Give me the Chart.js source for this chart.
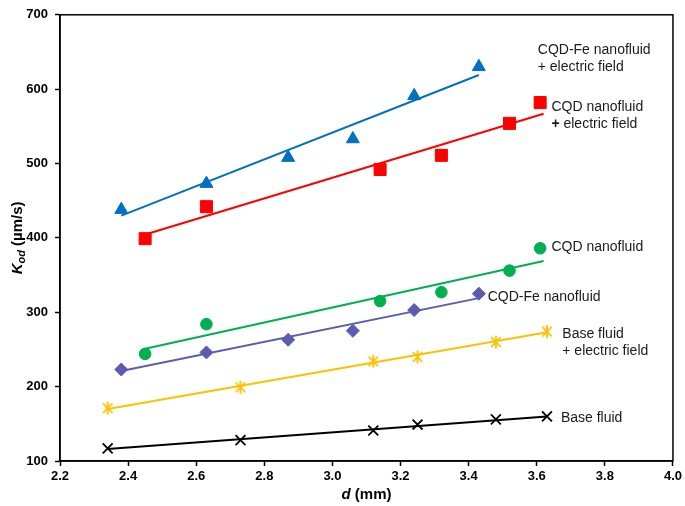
<!DOCTYPE html>
<html><head><meta charset="utf-8">
<script src="https://cdn.jsdelivr.net/npm/chart.js@4.4.1/dist/chart.umd.min.js"></script>
<style>html,body{margin:0;padding:0;background:#fff}#w{width:685px;height:506px}</style>
</head><body><div id="w"><canvas id="c" width="685" height="506"></canvas></div>
<script>
// Data
const dBaseFluid = [2.34, 2.73, 3.12, 3.25, 3.48, 3.63];
const kBaseFluid = [117, 128, 141, 149, 156, 160];
const dBaseEF = [2.34, 2.73, 3.12, 3.25, 3.48, 3.63];
const kBaseEF = [171, 199, 234, 240, 260, 274];
const dCqdFe = [2.38, 2.63, 2.87, 3.06, 3.24, 3.43];
const kCqdFe = [223, 246, 263, 275, 303, 325];
const dCqd = [2.45, 2.63, 3.14, 3.32, 3.52, 3.61];
const kCqd = [244, 284, 315, 327, 356, 386];
const dCqdEF = [2.45, 2.63, 3.14, 3.32, 3.52, 3.61];
const kCqdEF = [399, 442, 492, 511, 554, 582];
const dCqdFeEF = [2.38, 2.63, 2.87, 3.06, 3.24, 3.43];
const kCqdFeEF = [438, 473, 508, 533, 591, 630];
// trend line endpoints [d0, d1], [k0, k1]
const trendBaseFluid = [[2.34, 3.63], [116, 160]];
const trendBaseEF = [[2.34, 3.63], [170, 273]];
const trendCqdFe = [[2.38, 3.43], [221, 319]];
const trendCqd = [[2.45, 3.62], [251, 369]];
const trendCqdEF = [[2.46, 3.62], [406, 567]];
const trendCqdFeEF = [[2.38, 3.43], [430, 619]];
const xTickValues = [2.2, 2.4, 2.6, 2.8, 3.0, 3.2, 3.4, 3.6, 3.8, 4.0];
const yTickValues = [100, 200, 300, 400, 500, 600, 700];
const seriesLabels = [
  ['CQD-Fe nanofluid', '+ electric field'],
  ['CQD nanofluid', '+ electric field'],
  ['CQD nanofluid'],
  ['CQD-Fe nanofluid'],
  ['Base fluid', '+ electric field'],
  ['Base fluid']
];
const labelAnchors = [[3.603, 653], [3.643, 576], [3.643, 388], [3.456, 320], [3.675, 271], [3.671, 158]];

function pts(xs, ys){ return xs.map((x,i)=>({x:x, y:ys[i]})); }

// custom asterisk marker
function asterisk(color){
  const c = document.createElement('canvas'); c.width = 16; c.height = 16;
  const g = c.getContext('2d'); g.strokeStyle = color; g.lineWidth = 1.8;
  g.beginPath();
  g.moveTo(8,1.5); g.lineTo(8,14.5);
  g.moveTo(3.2,3.2); g.lineTo(12.8,12.8);
  g.moveTo(12.8,3.2); g.lineTo(3.2,12.8);
  g.stroke();
  return c;
}

const cols = {feef:'#0070C0', cqdef:'#FF0000', cqd:'#00B050', fe:'#5B5BB0', bef:'#FFC000', base:'#000000'};

function scatterSet(xs, ys, color, style, r){
  return {data: pts(xs, ys), showLine:false, pointStyle: style, pointRadius: r, pointHoverRadius: r,
    backgroundColor: color, borderColor: color, pointBorderWidth: style==='crossRot'?1.8:1, order:1};
}
function trendSet(t, color){
  return {data: pts(t[0], t[1]), showLine:true, pointRadius:0, borderColor: color, borderWidth:2, fill:false, order:2};
}

const framePlugin = {
  id:'frame',
  afterDraw(chart){
    const {ctx, chartArea:a, scales} = chart;
    ctx.save();
    ctx.strokeStyle = '#000'; ctx.lineWidth = 1.5;
    ctx.strokeRect(a.left, a.top, a.right - a.left, a.bottom - a.top);
    // series labels
    const fL = '14px "Liberation Sans", Arial, sans-serif';
    const fLB = 'bold 14px "Liberation Sans", Arial, sans-serif';
    ctx.fillStyle = '#1a1a1a';
    ctx.textBaseline = 'middle'; ctx.textAlign = 'left';
    seriesLabels.forEach((lines, i) => {
      const px = scales.x.getPixelForValue(labelAnchors[i][0]);
      const py = scales.y.getPixelForValue(labelAnchors[i][1]);
      lines.forEach((ln, j) => {
        const y = py + j*17.5;
        if (i === 1 && ln.startsWith('+')) {
          ctx.font = fLB; ctx.fillText('+', px, y);
          const w = ctx.measureText('+').width;
          ctx.font = fL; ctx.fillText(ln.slice(1), px + w, y);
        } else {
          ctx.font = fL; ctx.fillText(ln, px, y);
        }
      });
    });
    // y axis title: K_od (µm/s)
    ctx.fillStyle = '#000';
    ctx.save();
    ctx.translate(17, (a.top + a.bottom)/2);
    ctx.rotate(-Math.PI/2);
    const fK = 'italic bold 15px "Liberation Sans", Arial, sans-serif';
    const fSub = 'italic bold 11px "Liberation Sans", Arial, sans-serif';
    const fN = 'bold 15px "Liberation Sans", Arial, sans-serif';
    ctx.font = fK; const wK = ctx.measureText('K').width;
    ctx.font = fSub; const wS = ctx.measureText('od').width;
    ctx.font = fN; const wN = ctx.measureText(' (µm/s)').width;
    let x0 = -(wK + wS + wN)/2;
    ctx.textAlign = 'left'; ctx.textBaseline = 'alphabetic';
    ctx.font = fK; ctx.fillText('K', x0, 5);
    ctx.font = fSub; ctx.fillText('od', x0 + wK, 8);
    ctx.font = fN; ctx.fillText(' (µm/s)', x0 + wK + wS, 5);
    ctx.restore();
    // x axis title: d (mm)
    const fd = 'italic bold 15px "Liberation Sans", Arial, sans-serif';
    ctx.font = fd; const wd = ctx.measureText('d').width;
    ctx.font = fN; const wm = ctx.measureText(' (mm)').width;
    let xs = (a.left + a.right)/2 - (wd + wm)/2;
    ctx.textBaseline = 'alphabetic';
    ctx.font = fd; ctx.fillText('d', xs, 499);
    ctx.font = fN; ctx.fillText(' (mm)', xs + wd, 499);
    ctx.restore();
  }
};

new Chart(document.getElementById('c'), {
  type:'scatter',
  data:{datasets:[
    trendSet(trendCqdFeEF, cols.feef), scatterSet(dCqdFeEF, kCqdFeEF, cols.feef, 'triangle', 7.5),
    trendSet(trendCqdEF, cols.cqdef), scatterSet(dCqdEF, kCqdEF, cols.cqdef, 'rect', 8.5),
    trendSet(trendCqd, cols.cqd), scatterSet(dCqd, kCqd, cols.cqd, 'circle', 5.8),
    trendSet(trendCqdFe, cols.fe), scatterSet(dCqdFe, kCqdFe, cols.fe, 'rectRot', 6.5),
    trendSet(trendBaseEF, cols.bef), scatterSet(dBaseEF, kBaseEF, cols.bef, asterisk(cols.bef), 8),
    trendSet(trendBaseFluid, cols.base), scatterSet(dBaseFluid, kBaseFluid, cols.base, 'crossRot', 7)
  ]},
  options:{
    responsive:false, animation:false, devicePixelRatio:1,
    layout:{padding:{top:9, right:12, left:0, bottom:0}},
    plugins:{legend:{display:false}, tooltip:{enabled:false}},
    scales:{
      x:{type:'linear', min:2.2, max:4.0,
        afterBuildTicks(ax){ ax.ticks = xTickValues.map(v=>({value:v})); },
        afterFit(ax){ ax.height = 45; },
        ticks:{callback:(v)=>Number(v).toFixed(1), color:'#000', padding:3, maxRotation:0, autoSkip:false,
          font:{family:'"Liberation Sans", Arial, sans-serif', size:13, weight:'bold'}},
        grid:{drawOnChartArea:false, drawTicks:true, tickLength:5, color:'#000', tickWidth:1.5},
        border:{display:true, color:'#000', width:1.5}},
      y:{type:'linear', min:100, max:700,
        afterBuildTicks(ax){ ax.ticks = yTickValues.map(v=>({value:v})); },
        afterFit(ax){ ax.width = 60; },
        ticks:{callback:(v)=>String(v), color:'#000', padding:7, autoSkip:false,
          font:{family:'"Liberation Sans", Arial, sans-serif', size:13, weight:'bold'}},
        grid:{drawOnChartArea:false, drawTicks:true, tickLength:5, color:'#000', tickWidth:1.5},
        border:{display:true, color:'#000', width:1.5}}
    }
  },
  plugins:[framePlugin]
});
</script></body></html>
